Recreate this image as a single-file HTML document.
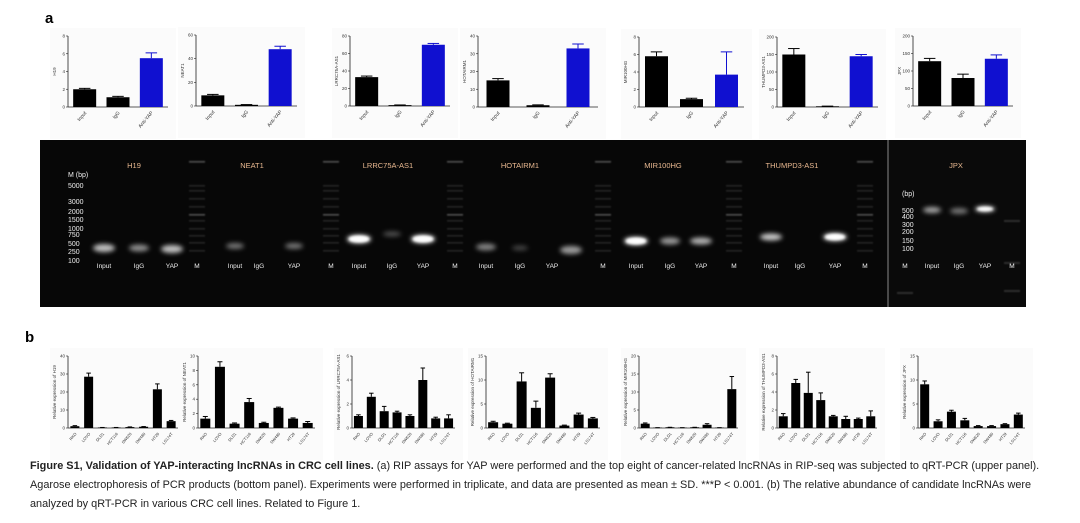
<!DOCTYPE html>
<html><head><meta charset="utf-8">
<style>
html,body{margin:0;padding:0;background:#fff;}
body{width:1080px;height:523px;overflow:hidden;position:relative;font-family:"Liberation Sans",Arial,sans-serif;}
.cap{position:absolute;left:30px;font-size:10.9px;color:#222;white-space:nowrap;line-height:13px;}
</style></head><body>
<svg id="s" width="1080" height="523" xmlns="http://www.w3.org/2000/svg" style="position:absolute;left:0;top:0">
<defs><filter id="bl" x="-50%" y="-100%" width="200%" height="300%"><feGaussianBlur stdDeviation="2.5"/></filter>
<filter id="bl2" x="-50%" y="-100%" width="200%" height="300%"><feGaussianBlur stdDeviation="1.2"/></filter>
<filter id="bl3" x="-20%" y="-100%" width="140%" height="300%"><feGaussianBlur stdDeviation="0.7"/></filter></defs>
<text x="45" y="23" font-size="15" font-weight="bold" font-family="Liberation Sans">a</text>
<text x="25" y="342" font-size="15" font-weight="bold" font-family="Liberation Sans">b</text>
</svg>
<div class="cap" style="top:460px"><b>Figure S1, Validation of YAP-interacting lncRNAs in CRC cell lines.</b> (a) RIP assays for YAP were performed and the top eight of cancer-related lncRNAs in RIP-seq was subjected to qRT-PCR (upper panel).</div>
<div class="cap" style="top:479px">Agarose electrophoresis of PCR products (bottom panel). Experiments were performed in triplicate, and data are presented as mean ± SD. ***P &lt; 0.001. (b) The relative abundance of candidate lncRNAs were</div>
<div class="cap" style="top:498px">analyzed by qRT-PCR in various CRC cell lines. Related to Figure 1.</div>
<script>
(function(){
const s=document.getElementById('s');let h='';
function bars(x0,x1,yt,yb,max,ticks,vals,errs,cols,names,ylab,bw,fs){
  h+=`<rect x="${x0-18}" y="${yt-8}" width="${x1-x0+26}" height="${yb-yt+40}" fill="#fbfbfb"/>`;
  h+=`<line x1="${x0}" y1="${yt}" x2="${x0}" y2="${yb}" stroke="#222" stroke-width="0.8"/><line x1="${x0}" y1="${yb}" x2="${x1}" y2="${yb}" stroke="#222" stroke-width="0.8"/>`;
  ticks.forEach(t=>{let y=yb-(yb-yt)*t/max;h+=`<line x1="${x0-2}" y1="${y}" x2="${x0}" y2="${y}" stroke="#222" stroke-width="0.6"/><text x="${x0-3}" y="${y+1.5}" font-size="4.5" text-anchor="end" fill="#333">${t}</text>`;});
  const n=vals.length,step=(x1-x0)/n;
  vals.forEach((v,i)=>{let c=x0+step*(i+0.5),y=yb-(yb-yt)*v/max,ye=yb-(yb-yt)*(v+errs[i])/max;
    h+=`<line x1="${c}" y1="${y}" x2="${c}" y2="${ye}" stroke="${cols[i]}" stroke-width="1"/><line x1="${c-bw/4}" y1="${ye}" x2="${c+bw/4}" y2="${ye}" stroke="${cols[i]}" stroke-width="1"/>`;
    h+=`<rect x="${c-bw/2}" y="${y}" width="${bw}" height="${yb-y}" fill="${cols[i]}"/>`;
    h+=`<text transform="translate(${c+2},${yb+6}) rotate(-50)" font-size="${fs}" text-anchor="end" fill="#333">${names[i]}</text>`;});
  h+=`<text transform="translate(${x0-12},${(yt+yb)/2}) rotate(-90)" font-size="4.5" text-anchor="middle" fill="#333">${ylab}</text>`;
}
const K='#000',B='#1010d0';
const topc=[[68,168,36,107,8,[0,2,4,6,8],[2,1.1,5.5],[.1,.1,.6],'H19'],
[196,297,35,106,60,[0,20,40,60],[9,1,48],[.8,.2,2.5],'NEAT1'],
[350,450,36,106,80,[0,20,40,60,80],[33,1,70],[1.2,.2,1.5],'LRRC75A-AS1'],
[478,598,36,107,40,[0,10,20,30,40],[15,1,33],[1,.2,2.5],'HOTAIRM1'],
[639,744,37,107,8,[0,2,4,6,8],[5.8,0.9,3.7],[.5,.1,2.6],'MIR100HG'],
[777,878,37,107,200,[0,50,100,150,200],[150,2,145],[17,.5,5],'THUMPD3-AS1'],
[913,1013,36,106,200,[0,50,100,150,200],[128,80,135],[8,11,11],'JPX']];
topc.forEach(c=>bars(c[0],c[1],c[2],c[3],c[4],c[5],c[6],c[7],[K,K,B],['Input','IgG','Anti-YAP'],c[8],23,5));
const cells=['RKO','LOVO','DLD1','HCT116','SW620','SW480','HT29','LS174T'];
const bot=[[68,178,40,[0,10,20,30,40],[1,28.5,.3,.3,.5,.7,21.5,3.8],[.3,2,0,0,.1,.1,3,.4],'H19'],
[198,315,10,[0,2,4,6,8,10],[1.3,8.5,.6,3.6,.7,2.8,1.3,.7],[.3,.7,.1,.5,.1,.1,.1,.2],'NEAT1'],
[352,455,6,[0,2,4,6],[1,2.6,1.4,1.3,1,4,.8,.8],[.1,.3,.4,.1,.1,1,.1,.3],'LRRC75A-AS1'],
[486,600,15,[0,5,10,15],[1.2,.9,9.7,4.2,10.5,.5,2.8,2],[.2,.1,1.8,1.4,.8,.1,.3,.2],'HOTAIRM1'],
[639,738,20,[0,5,10,15,20],[1.2,.1,.2,.1,.2,.9,.1,10.8],[.2,0,0,0,0,.3,0,3.5],'MIR100HG'],
[777,877,8,[0,2,4,6,8],[1.3,5,3.9,3.1,1.3,1,1,1.3],[.3,.4,2.3,.8,.1,.3,.1,.6],'THUMPD3-AS1'],
[918,1025,15,[0,5,10,15],[9.1,1.4,3.4,1.6,.4,.4,.8,2.8],[.7,.3,.3,.4,.1,.1,.1,.3],'JPX']];
bot.forEach(c=>bars(c[0],c[1],356,428,c[2],c[3],c[4],c[5],Array(8).fill(K),cells,'Relative expression of '+c[6],c[1]-c[0]>110?10:9,4));
h+=`<rect x="40" y="140" width="986" height="167" fill="#070707"/><rect x="888" y="140" width="138" height="167" fill="#0a0a0a"/><line x1="888" y1="140" x2="888" y2="307" stroke="#888" stroke-width="1"/>`;
const titles=[[134,'H19'],[252,'NEAT1'],[388,'LRRC75A-AS1'],[520,'HOTAIRM1'],[663,'MIR100HG'],[792,'THUMPD3-AS1'],[956,'JPX']];
titles.forEach(t=>h+=`<text x="${t[0]}" y="168" font-size="7.5" fill="#e8b890" text-anchor="middle">${t[1]}</text>`);
const lanes=[[104,'Input'],[139,'IgG'],[172,'YAP'],[197,'M'],[235,'Input'],[259,'IgG'],[294,'YAP'],[331,'M'],[359,'Input'],[392,'IgG'],[423,'YAP'],[455,'M'],[486,'Input'],[520,'IgG'],[552,'YAP'],[603,'M'],[636,'Input'],[670,'IgG'],[701,'YAP'],[734,'M'],[771,'Input'],[800,'IgG'],[835,'YAP'],[865,'M'],[905,'M'],[932,'Input'],[959,'IgG'],[985,'YAP'],[1012,'M']];
lanes.forEach(l=>h+=`<text x="${l[0]}" y="268" font-size="6.5" fill="#eee" text-anchor="middle">${l[1]}</text>`);
[[177,'M (bp)'],[188,'5000'],[204,'3000'],[214,'2000'],[222,'1500'],[231,'1000'],[237,'750'],[246,'500'],[254,'250'],[263,'100']].forEach(t=>h+=`<text x="68" y="${t[0]}" font-size="7" fill="#eee">${t[1]}</text>`);
[[196,'(bp)'],[213,'500'],[219,'400'],[227,'300'],[234,'200'],[243,'150'],[251,'100']].forEach(t=>h+=`<text x="902" y="${t[0]}" font-size="7" fill="#eee">${t[1]}</text>`);
[197,331,455,603,734,865].forEach(x=>{[161,185,190,198,206,214,220,228,235,242,250].forEach((y,i)=>h+=`<rect x="${x-8}" y="${y}" width="16" height="1.6" fill="#fff" opacity="${i==0||i==5?0.3:0.12}" filter="url(#bl3)"/>`);});
[[1012,220],[1012,262],[905,292],[1012,290]].forEach(p=>h+=`<rect x="${p[0]-8}" y="${p[1]}" width="16" height="2" fill="#fff" opacity="0.15" filter="url(#bl3)"/>`);
const bands=[[104,248,22,8,.75],[139,248,20,7,.55],[172,249,22,8,.75],[235,246,18,6,.45],[294,246,18,6,.45],[359,239,24,8,1],[392,234,18,5,.3],[423,239,24,8,1],[486,247,20,7,.5],[520,248,16,5,.25],[571,250,22,8,.6],[636,241,24,8,.95],[670,241,20,7,.6],[701,241,22,7,.7],[771,237,22,7,.8],[835,237,24,8,.85],[932,210,18,6,.65],[959,211,18,6,.45],[985,209,20,6,.85]];
bands.forEach(b=>{h+=`<ellipse cx="${b[0]}" cy="${b[1]}" rx="${b[2]/2}" ry="${b[3]/2}" fill="#fff" opacity="${b[4]}" filter="url(#bl)"/>`;
 if(b[4]>.8)h+=`<ellipse cx="${b[0]}" cy="${b[1]}" rx="${b[2]/2-2}" ry="${b[3]/2-1}" fill="#fff" filter="url(#bl2)"/>`;});
s.insertAdjacentHTML('beforeend',h);
})();
</script>
</body></html>
